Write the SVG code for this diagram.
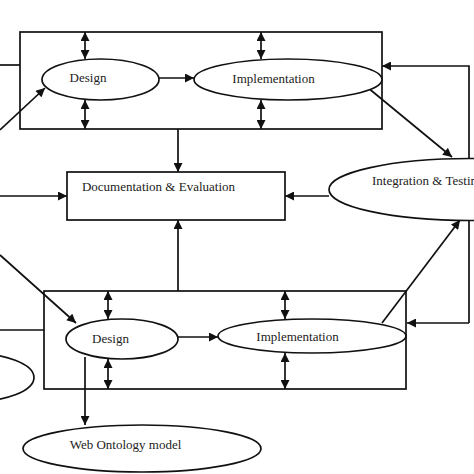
<svg xmlns="http://www.w3.org/2000/svg" width="474" height="474" viewBox="0 0 474 474">
<style>
.ln{fill:none;stroke:#111;stroke-width:1.7}
.arr{marker-end:url(#ah)}
.dbl{marker-end:url(#ah);marker-start:url(#ah2)}
.box{fill:none;stroke:#111;stroke-width:1.7}
.nd{fill:#fff;stroke:#111;stroke-width:1.7}
.t{font-family:"Liberation Serif","Times New Roman",serif;font-size:13px;fill:#222}
</style>
<defs>
<marker id="ah" viewBox="0 0 10 10" refX="10" refY="5" markerUnits="userSpaceOnUse" markerWidth="10" markerHeight="9" orient="auto"><path d="M0,0 L10,5 L0,10 z" fill="#111"/></marker>
<marker id="ah2" viewBox="0 0 10 10" refX="10" refY="5" markerUnits="userSpaceOnUse" markerWidth="10" markerHeight="9" orient="auto-start-reverse"><path d="M0,0 L10,5 L0,10 z" fill="#111"/></marker>
</defs>
<rect width="474" height="474" fill="#fff"/>
<g id="connectors">
<path class="ln" d="M0,65 H20"/>
<path class="ln arr" d="M0,130 L45,88"/>
<path class="ln arr" d="M159,78 H194"/>
<path class="ln dbl" d="M85,32 V59"/>
<path class="ln dbl" d="M85,100 V129"/>
<path class="ln dbl" d="M261,32 V59"/>
<path class="ln dbl" d="M261,100 V129"/>
<path class="ln arr" d="M178,129 V172"/>
<path class="ln arr" d="M0,196 H67"/>
<path class="ln arr" d="M329,196 H285"/>
<path class="ln arr" d="M178,291 V220"/>
<path class="ln arr" d="M367,87 L452,157"/>
<path class="ln arr" d="M469,323 V66 H382"/>
<path class="ln arr" d="M469,323 H407"/>
<path class="ln arr" d="M0,255 L76,323"/>
<path class="ln" d="M0,330 H44"/>
<path class="ln arr" d="M178,337 H218"/>
<path class="ln dbl" d="M108,291 V319"/>
<path class="ln dbl" d="M108,359 V389"/>
<path class="ln dbl" d="M285,291 V319"/>
<path class="ln dbl" d="M285,353 V389"/>
<path class="ln arr" d="M382,323 L460,220"/>
<path class="ln arr" d="M85,357 V425"/>
</g>
<g id="top-phase"><rect class="box" x="20" y="32" width="362" height="97"/></g>
<g id="top-design"><ellipse class="nd" cx="100.5" cy="79.5" rx="58.5" ry="20.5"/><text class="t" x="88" y="82" text-anchor="middle">Design</text></g>
<g id="top-implementation"><ellipse class="nd" cx="288" cy="79.5" rx="94" ry="20.5"/><text class="t" x="273.5" y="83" text-anchor="middle">Implementation</text></g>
<g id="documentation"><rect class="nd" x="67" y="172" width="218" height="48"/><text class="t" x="158.5" y="191" text-anchor="middle">Documentation &amp; Evaluation</text></g>
<g id="integration"><ellipse class="nd" cx="470" cy="189.5" rx="141" ry="31"/><text class="t" x="372" y="185">Integration &amp; Testing</text></g>
<g id="bottom-phase"><rect class="box" x="44" y="291" width="362" height="98"/></g>
<g id="bottom-design"><ellipse class="nd" cx="122" cy="339" rx="56" ry="20"/><text class="t" x="110.5" y="343" text-anchor="middle">Design</text></g>
<g id="bottom-implementation"><ellipse class="nd" cx="312" cy="336" rx="94" ry="17"/><text class="t" x="297.5" y="341" text-anchor="middle">Implementation</text></g>
<g id="left-ellipse"><ellipse class="nd" cx="-30" cy="377.5" rx="64" ry="24.5"/></g>
<g id="web-ontology"><ellipse class="nd" cx="142" cy="448.5" rx="119" ry="23.5"/><text class="t" x="125.5" y="449" text-anchor="middle">Web Ontology model</text></g>
</svg>
